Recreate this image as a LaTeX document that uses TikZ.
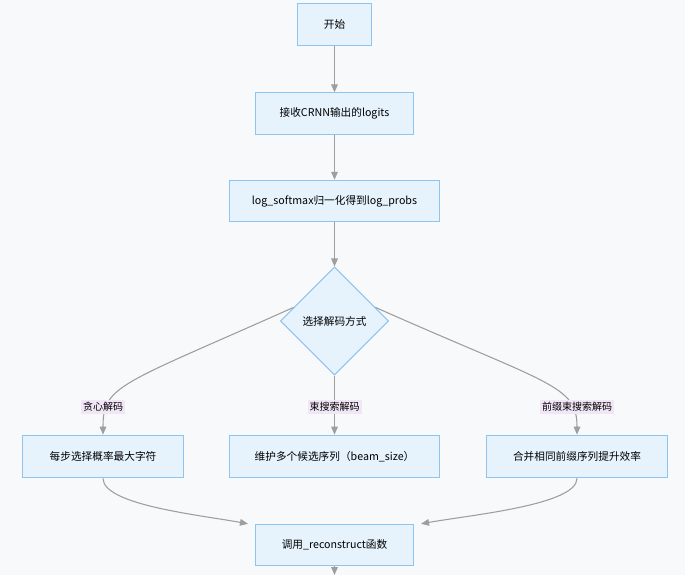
\documentclass[tikz,border=0pt]{standalone}
\usepackage{fontspec}
\setmainfont{Noto Sans CJK SC}
\usetikzlibrary{shapes.geometric,arrows.meta,calc}
\definecolor{bg}{HTML}{F8F9FA}
\definecolor{nfill}{HTML}{E6F3FD}
\definecolor{nline}{HTML}{90C4F0}
\definecolor{eline}{HTML}{9E9E9E}
\definecolor{lfill}{HTML}{F1E6F6}
\begin{document}
\begin{tikzpicture}[x=0.75pt,y=-0.75pt,
  box/.style={draw=nline,fill=nfill,line width=0.8pt,font=\fontsize{8}{10}\selectfont,inner sep=0pt,anchor=center},
  dia/.style={draw=nline,fill=nfill,line width=0.8pt,diamond,aspect=1,font=\fontsize{8}{10}\selectfont,inner sep=0pt,minimum size=81pt},
  lab/.style={fill=lfill,font=\fontsize{7.5}{9}\selectfont,inner sep=1.5pt},
  arr/.style={draw=eline,line width=0.8pt,-{Triangle[length=6pt,width=5pt]}}]
\fill[bg] (0,0) rectangle (685,575);
\useasboundingbox (0,0) rectangle (685,575);
\node[box,minimum width=56pt,minimum height=32pt] (s) at (334.5,24.5) {开始};
\node[box,minimum width=119pt,minimum height=31pt] (a) at (334.5,113.5) {接收CRNN输出的logits};
\node[box,minimum width=158pt,minimum height=31pt] (b) at (334.5,201) {log\_softmax归一化得到log\_probs};
\node[dia] (d) at (334.5,321) {选择解码方式};
\node[box,minimum width=121pt,minimum height=32pt] (g) at (103,456.5) {每步选择概率最大字符};
\node[box,minimum width=158pt,minimum height=32pt] (m) at (334.5,456.5) {维护多个候选序列（beam\_size）};
\node[box,minimum width=136pt,minimum height=32pt] (p) at (577,456.5) {合并相同前缀序列提升效率};
\node[box,minimum width=119pt,minimum height=31pt] (r) at (334.5,545) {调用\_reconstruct函数};
\coordinate (e) at (334.5,575);
\draw[arr] (s) -- (a);
\draw[arr] (a) -- (b);
\draw[arr] (b) -- (d);
\draw[arr] ($(d.west)!0.25!(d.north)$) .. controls (120,385) and (103,385) .. (g.north);
\draw[arr] (d.south) -- (m.north);
\draw[arr] ($(d.east)!0.25!(d.north)$) .. controls (550,385) and (577,385) .. (p.north);
\draw[arr] (g.south) .. controls (103,505) and (200,515) .. ([xshift=-5pt]r.north west |- r.north);
\draw[arr] (p.south) .. controls (577,505) and (470,515) .. ([xshift=5pt]r.north east |- r.north);
\draw[arr] (r) -- (e);
\node[lab] at (103,407) {贪心解码};
\node[lab] at (334.5,407) {束搜索解码};
\node[lab] at (577,407) {前缀束搜索解码};
\end{tikzpicture}
\end{document}
